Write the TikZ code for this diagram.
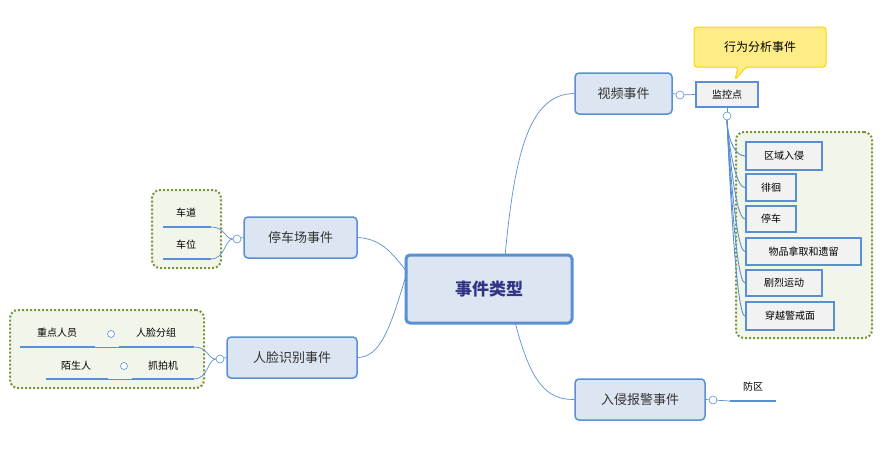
\documentclass[tikz,border=0pt]{standalone}
\usepackage{fontspec}
\newfontfamily\cjk{Noto Sans CJK SC}
\begin{document}
\begin{tikzpicture}[x=1pt,y=-1pt,font=\cjk,
 topic/.style={draw=blue!50!cyan!60!black!70,line width=1.5pt,fill=lb,rounded corners=4pt,minimum height=40pt,font=\cjk\fontsize{13}{15}\selectfont,text=black!80,inner sep=0pt},
 sub/.style={draw=bl,line width=2pt,fill=gr,minimum height=26pt,font=\cjk\fontsize{10}{12}\selectfont,inner sep=0pt},
 grp/.style={draw=og,line width=2pt,dotted,fill=gf,rounded corners=8pt},
 tog/.style={circle,draw=bl,fill=white,inner sep=0pt,minimum size=8pt,line width=0.6pt},
 con/.style={draw=bl,line width=0.7pt},
 ul/.style={draw=bl,line width=2.2pt},
 lbl/.style={font=\cjk\fontsize{10}{12}\selectfont,inner sep=0pt}]
\definecolor{bl}{HTML}{5B8FD4}
\definecolor{lb}{HTML}{DCE6F2}
\definecolor{gr}{HTML}{F2F2F2}
\definecolor{og}{HTML}{77933C}
\definecolor{gf}{HTML}{F2F5EA}
\tikzset{topic/.append style={draw=bl}}
\useasboundingbox (0,0) rectangle (894,463);
% groups
\node[grp,minimum width=136pt,minimum height=206pt] (g1) at (804,235) {};
\node[grp,minimum width=69pt,minimum height=78pt] (g2) at (186.5,229) {};
\node[grp,minimum width=194pt,minimum height=78pt] (g3) at (107,349) {};
% center
\node[topic,line width=3pt,minimum width=166pt,minimum height=68pt,font=\cjk\bfseries\fontsize{17}{20}\selectfont,text=blue!40!black!80] (c) at (489,289) {事件类型};
\node[topic,minimum width=97pt,minimum height=41pt] (v) at (623.5,93.5) {视频事件};
\node[topic,minimum width=130pt,minimum height=41pt] (r) at (640,399.5) {入侵报警事件};
\node[topic,minimum width=113pt,minimum height=41pt] (p) at (300.5,237.5) {停车场事件};
\node[topic,minimum width=130pt,minimum height=41pt] (f) at (292,357.5) {人脸识别事件};
\coordinate (ct) at (505,256); \coordinate (cb) at (515,322);
\coordinate (cl) at (407,272);
\draw[con] (ct) .. controls (515,150) and (530,94) .. (v.west);
\draw[con] (cb) .. controls (530,380) and (545,400) .. (r.west);
\draw[con] (cl) .. controls (390,250) and (380,239) .. (p.east);
\draw[con] (cl) .. controls (390,330) and (380,357) .. (f.east);
% monitor
\node[sub,minimum width=62pt,minimum height=25pt] (m) at (727,94.5) {监控点};
\node[tog] (t1) at (680,95) {};
\draw[con] (v.east) -- (t1) -- (m.west);
\draw[draw=yellow!70!orange,fill=yellow!40!white!90!orange,line width=1pt,rounded corners=3pt]
 (694,27) -- (826,27) -- (826,67) -- (746,67) -- (735,80) -- (738,67) -- (694,67) -- cycle;
\node[font=\cjk\fontsize{12}{14}\selectfont] (cal) at (760,47) {行为分析事件};
\node[tog] (t2) at (727,116) {};
\draw[con] (m.south) -- (t2);
\foreach \n/\t/\xa/\xb/\ya/\yb in {a/区域入侵/746/822/142/170,b/徘徊/746/796/174/201,c2/停车/746/796/206/232,d/物品拿取和遗留/746/861/238/265,e/剧烈运动/746/822/270/296,h/穿越警戒面/746/834/302/330}{
 \node[sub,minimum width=\xb-\xa,minimum height=\yb-\ya] (\n) at ({(\xa+\xb)/2},{(\ya+\yb)/2}) {\t};
 \draw[con,line width=0.9pt] (t2.south) .. controls (728,140) and (735,{(\ya+\yb)/2}) .. (\n.west);
}
% intrusion
\node[tog] (t3) at (713,400) {};
\node[lbl] (fq) at (753,387) {防区};
\coordinate (fq1) at (730,401); \coordinate (fq2) at (776,401);
\draw[con] (r.east) -- (t3) -- (fq1);
\draw[ul] (fq1) -- (fq2);
% parking
\node[tog] (t4) at (237,239) {};
\draw[con] (p.west) -- (t4);
\node[lbl] (cd) at (186,213) {车道};
\node[lbl] (cw) at (186,245) {车位};
\coordinate (cd1) at (163,227); \coordinate (cd2) at (211,227);
\coordinate (cw1) at (163,259); \coordinate (cw2) at (211,259);
\draw[ul] (cd1) -- (cd2); \draw[ul] (cw1) -- (cw2);
\draw[con] (t4.west) .. controls (225,239) and (225,227) .. (cd2);
\draw[con] (t4.west) .. controls (225,239) and (225,259) .. (cw2);
% face
\node[tog] (t5) at (220,359) {};
\draw[con] (f.west) -- (t5);
\node[lbl] (zd) at (57,333) {重点人员};
\node[lbl] (rl) at (156,333) {人脸分组};
\node[lbl] (ms) at (76,366) {陌生人};
\node[lbl] (zp) at (163,366) {抓拍机};
\node[tog,minimum size=7pt] (t6) at (111,334) {};
\node[tog,minimum size=7pt] (t7) at (124,366) {};
\coordinate (zd1) at (20,347); \coordinate (zd2) at (95,347);
\coordinate (rl1) at (119,347); \coordinate (rl2) at (194,347);
\coordinate (ms1) at (46,379); \coordinate (ms2) at (108,379);
\coordinate (zp1) at (132,379); \coordinate (zp2) at (194,379);
\draw[ul] (zd1) -- (zd2); \draw[ul] (rl1) -- (rl2);
\draw[ul] (ms1) -- (ms2); \draw[ul] (zp1) -- (zp2);
\draw[con] (zd2) -- (rl1); \draw[con] (ms2) -- (zp1);
\draw[con] (t5.west) .. controls (208,359) and (208,347) .. (rl2);
\draw[con] (t5.west) .. controls (208,359) and (208,379) .. (zp2);
\end{tikzpicture}
\end{document}
